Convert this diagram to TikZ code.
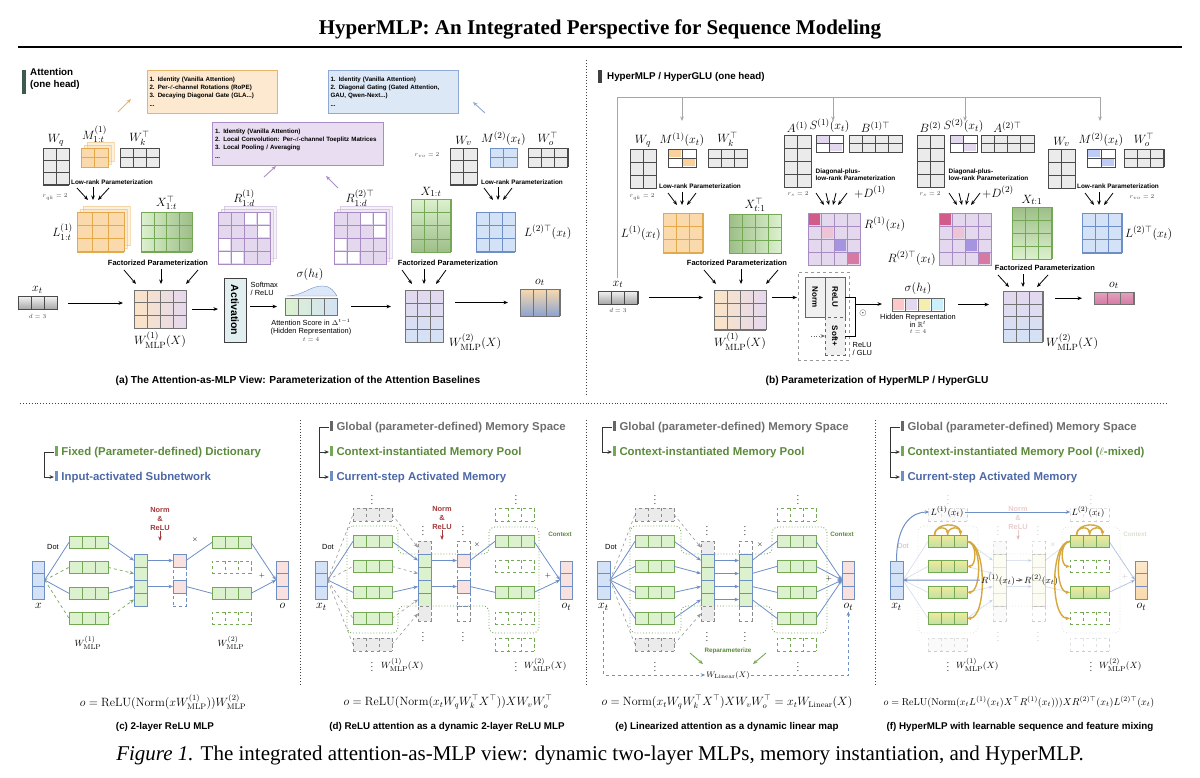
\documentclass[tikz,border=0pt]{standalone}
\usepackage[no-math]{fontspec}
\setmainfont{Liberation Serif}
\setsansfont{Liberation Sans}
\usepackage{amsmath,amssymb}
\usepackage{graphicx}
\usetikzlibrary{arrows.meta, positioning, calc, shadows}

\definecolor{mgray}{HTML}{4A4A4A}
\definecolor{cgray}{HTML}{EBEBEB}
\definecolor{ofill}{HTML}{FAD9AC}
\definecolor{oline}{HTML}{E3A94B}
\definecolor{gfill}{HTML}{DCF1CE}
\definecolor{gdark}{HTML}{9DBE88}
\definecolor{gline}{HTML}{74A854}
\definecolor{bfill}{HTML}{D3E2F6}
\definecolor{bline}{HTML}{6E8EC6}
\definecolor{pfill}{HTML}{E4D8EE}
\definecolor{pline}{HTML}{A98BC4}
\definecolor{obox}{HTML}{FCE9CF}
\definecolor{oboxl}{HTML}{E8B46A}
\definecolor{bbox}{HTML}{DDE8F7}
\definecolor{bboxl}{HTML}{8EA9D6}
\definecolor{pbox}{HTML}{E9DEF1}
\definecolor{pboxl}{HTML}{A98DC6}
\definecolor{hdbar}{HTML}{3D5A4C}
\definecolor{leggray}{HTML}{6E6E6E}
\definecolor{leggreen}{HTML}{5C8A3C}
\definecolor{legblue}{HTML}{4D68A6}
\definecolor{nred}{HTML}{A3383A}
\definecolor{gold}{HTML}{D6A83C}
\definecolor{actfill}{HTML}{E2EFF1}
\definecolor{pinkc}{HTML}{F8E1DE}
\definecolor{yel}{HTML}{F2EA98}
\definecolor{ygr}{HTML}{BFE0A6}
\definecolor{magc}{HTML}{D77AA3}

% grid of cells: [style]{name}{x,y top left}{cols}{rows}{cell w}{cell h}{line style}
\newcommand{\mgrid}[8][]{%
  \node[mat,#1,anchor=north west,minimum width={#4*#6*1pt},minimum height={#5*#7*1pt}] (#2) at (#3) {};
  \foreach \k in {1,...,#4} {\draw[mline,#8] ($(#2.north west)+(\k*#6,0)$) -- ++(0,#5*#7);}
  \foreach \k in {1,...,#5} {\draw[mline,#8] ($(#2.north west)+(0,\k*#7)$) -- ++(#4*#6,0);
    \coordinate (#2-w\k) at ($(#2.north west)+(0,\k*#7-0.5*#7)$);
    \coordinate (#2-e\k) at ($(#2.north east)+(0,\k*#7-0.5*#7)$);}
}
% colour one cell: {name}{col}{row}{cell w}{cell h}{colour}
\newcommand{\cellfill}[6]{\fill[#6] ($(#1.north west)+({(#2-1)*#4+0.6},{(#3-1)*#5+0.6})$) rectangle ++({#4-1.2},{#5-1.2});}
% three converging arrows
\newcommand{\conv}[5]{\draw[conv] (#1-#4,#2) -- (#1-#5,#3); \draw[conv] (#1,#2-1) -- (#1,#3); \draw[conv] (#1+#4,#2) -- (#1+#5,#3);}
% four converging arrows
\newcommand{\convf}[3]{\draw[conv] (#1-15,#2) -- (#1-7,#3); \draw[conv] (#1-5,#2) -- (#1-2,#3);
  \draw[conv] (#1+5,#2) -- (#1+2,#3); \draw[conv] (#1+16,#2) -- (#1+7,#3);}
\newcommand{\lbar}[1]{\textcolor{#1}{\rule[-0.5pt]{2.8pt}{10pt}}\hspace{3.5pt}}

\tikzset{
  >={Stealth[length=4.5pt,width=3.6pt]},
  mat/.style={draw, rectangle, inner sep=0pt, outer sep=0pt, line width=0.9pt},
  mline/.style={line width=0.55pt},
  gm/.style={mat, draw=mgray, fill=cgray},
  om/.style={mat, draw=oline, fill=ofill},
  grm/.style={mat, draw=gline, fill=gfill},
  grmd/.style={mat, draw=gline, dashed},
  gyd/.style={mat, draw=black!45, dashed, fill=black!8},
  emd/.style={mat, draw=black!45, dashed},
  bm/.style={mat, draw=bline, fill=bfill},
  pm/.style={mat, draw=pline, fill=pfill},
  midv/.style={mat, draw=bline, fill=gfill},
  actc/.style={mat, draw=bline, fill=pinkc},
  actd/.style={mat, draw=bline, dashed},
  fgr/.style={mat, draw=gline, top color=yel, bottom color=ygr},
  stackO/.style={double copy shadow={shadow xshift=3pt, shadow yshift=3pt, opacity=0.4, fill=ofill, draw=oline}},
  stackP/.style={double copy shadow={shadow xshift=3pt, shadow yshift=3pt, opacity=0.35, fill=pfill, draw=pline}},
  lab/.style={font=\fontsize{12.5}{14}\selectfont, inner sep=1pt},
  labs/.style={font=\fontsize{9.5}{11}\selectfont, inner sep=1pt},
  vd/.style={font=\fontsize{9}{10}\selectfont, inner sep=0pt},
  tinyt/.style={font=\sffamily\bfseries\fontsize{6.4}{7.4}\selectfont, inner sep=0.5pt},
  tinym/.style={font=\fontsize{6.5}{7.5}\selectfont, text=black!75, inner sep=0.5pt},
  fac/.style={font=\sffamily\bfseries\fontsize{7.5}{8.5}\selectfont, inner sep=0.5pt},
  listbox/.style={rectangle, line width=0.8pt, align=left, inner sep=2.5pt, font=\sffamily\bfseries\fontsize{6.2}{8.2}\selectfont},
  hd/.style={font=\sffamily\bfseries\fontsize{9.8}{12}\selectfont, inner sep=0pt, align=left},
  capt/.style={font=\sffamily\bfseries\fontsize{10.2}{12}\selectfont},
  captb/.style={font=\sffamily\bfseries\fontsize{9.8}{12}\selectfont},
  leg/.style={font=\sffamily\bfseries\fontsize{11.4}{13}\selectfont, inner sep=1pt, anchor=west},
  legline/.style={line width=0.8pt, black!80},
  sep/.style={dotted, line width=0.9pt, black!75},
  arr/.style={->, line width=1pt, shorten <=11pt, shorten >=11pt},
  conv/.style={->, line width=0.8pt},
  bcon/.style={line width=0.8pt, draw=bline},
  gdash/.style={dashed, line width=0.7pt, draw=gline},
  grdash/.style={dashed, line width=0.6pt, draw=black!40},
  ctx/.style={dotted, line width=0.9pt, draw=gline, rounded corners=6pt},
  form/.style={font=\fontsize{11.5}{13}\selectfont},
  smalls/.style={font=\sffamily\fontsize{7.4}{8.6}\selectfont, inner sep=0.5pt},
  ctxt/.style={font=\sffamily\bfseries\fontsize{6.3}{7}\selectfont, text=leggreen, inner sep=0.5pt},
  nr/.style={font=\sffamily\bfseries\fontsize{7.4}{8.6}\selectfont, text=nred, align=center, inner sep=0.5pt},
  frame/.style={line width=1pt, draw=black!35},
  garc/.style={line width=1.4pt, draw=gold},
  nbox/.style={mat, draw=black!60, fill=black!6, minimum width=20, minimum height=40, font=\sffamily\bfseries\fontsize{8}{9}\selectfont}
}

\begin{document}
\begin{tikzpicture}[x=1pt,y=-1pt]
\useasboundingbox (0,0) rectangle (1200,777);

% Title
\node[font=\bfseries\fontsize{21}{25}\selectfont] (title) at (600,29) {HyperMLP: An Integrated Perspective for Sequence Modeling};
\draw[line width=1.6pt] (18,47) -- (1182,47);

% Separators
\draw[sep] (586,60) -- (586,395);
\draw[sep] (20,403) -- (1166,403);
\draw[sep] (300,420) -- (300,684);
\draw[sep] (586,420) -- (586,684);
\draw[sep] (875,420) -- (875,684);

% ===== (a) Attention =====
\fill[hdbar] (22,70) rectangle (25.5,94);
\node[hd, anchor=north west] (hdA) at (30,68) {Attention\\(one head)};

% Parameter lists
\node[listbox, fill=obox, draw=oboxl, text width=125, minimum height=43] (boxO) at (212,91.5) {1. Identity (Vanilla Attention)\\2. Per-$\ell$-channel Rotations (RoPE)\\3. Decaying Diagonal Gate (GLA...)\\...};
\node[listbox, fill=bbox, draw=bboxl, text width=125, minimum height=43] (boxB) at (393,91.5) {1. Identity (Vanilla Attention)\\2. Diagonal Gating (Gated Attention,\\GAU, Qwen-Next...)\\...};
\node[listbox, fill=pbox, draw=pboxl, text width=166, minimum height=43] (boxP) at (298,143.5) {1. Identity (Vanilla Attention)\\2. Local Convolution: Per-$d$-channel Toeplitz Matrices\\3. Local Pooling / Averaging\\...};
\coordinate (oa1) at (118,112); \coordinate (oa2) at (131,99);
\coordinate (pa1) at (264,177); \coordinate (pa2) at (276,166);
\coordinate (pb1) at (338,188); \coordinate (pb2) at (326,176);
\coordinate (ba1) at (485,113); \coordinate (ba2) at (473,102);
\draw[->, line width=0.9pt, oboxl] (oa1) -- (oa2);
\draw[->, line width=0.9pt, pboxl] (pa1) -- (pa2);
\draw[->, line width=0.9pt, pboxl] (pb1) -- (pb2);
\draw[->, line width=0.9pt, bboxl] (ba1) -- (ba2);

% Query-key side
\mgrid[gm]{wqA}{43,148}{2}{3}{13}{12.3}{draw=mgray}
\mgrid[om, stackO]{mA}{81,148}{2}{2}{13.5}{9.5}{draw=oline}
\mgrid[gm]{wkA}{120,148}{3}{2}{13}{9.5}{draw=mgray}
\node[lab, above=1pt of wqA] (wqAl) {$W_q$};
\node[lab, above=4pt of mA] (mAl) {$M^{(1)}_{1:t}$};
\node[lab, above=1pt of wkA] (wkAl) {$W_k^{\top}$};
\node[tinyt] (lrA) at (112,182) {Low-rank Parameterization};
\node[tinym] (rqkA) at (55,197) {$r_{qk}=2$};
\conv{93}{188}{200}{16}{5}
\mgrid[om, stackO]{lA}{77,212}{3}{3}{15.7}{13.3}{draw=oline}
\node[lab, left=3pt of lA] (lAl) {$L^{(1)}_{1:t}$};
\mgrid[grm, left color=gfill, right color=gdark]{xtA}{141,212}{4}{3}{12.8}{13.3}{draw=gline}
\node[lab, above=1pt of xtA] (xtAl) {$X_{1:t}^{\top}$};

% Relative position matrices
\mgrid[pm, stackP]{r1A}{218,212}{4}{4}{13}{13}{draw=pline}
\foreach \c/\r in {3/1,4/1,4/2,1/3,1/4,2/4} {\cellfill{r1A}{\c}{\r}{13}{13}{white}}
\mgrid[pm, stackP]{r2A}{334,212}{4}{4}{13}{13}{draw=pline}
\foreach \c/\r in {4/1,3/1,4/2,1/3,1/4,2/4} {\cellfill{r2A}{\c}{\r}{13}{13}{white}}
\node[lab, above=4pt of r1A] (r1Al) {$R^{(1)}_{1:d}$};
\node[lab, above=4pt of r2A] (r2Al) {$R^{(2)\top}_{1:d}$};

% Value-output side
\mgrid[gm]{wvA}{450,148}{2}{3}{13.5}{12.3}{draw=mgray}
\mgrid[bm]{m2A}{490,148}{2}{2}{13.5}{9.5}{draw=bline}
\mgrid[gm]{woA}{528,148}{3}{2}{13.3}{9.5}{draw=mgray}
\node[lab, above=1pt of wvA] (wvAl) {$W_v$};
\node[lab, above=1pt of m2A] (m2Al) {$M^{(2)}(x_t)$};
\node[lab, above=1pt of woA] (woAl) {$W_o^{\top}$};
\node[tinym] (rvoA) at (427,155) {$r_{vo}=2$};
\node[tinyt] (lrA2) at (522,182) {Low-rank Parameterization};
\conv{498}{188}{200}{14}{5}
\mgrid[grm, top color=gfill, bottom color=gdark]{xA}{411,199}{3}{4}{13.3}{13.3}{draw=gline}
\node[lab, above=1pt of xA] (xAl) {$X_{1:t}$};
\mgrid[bm]{l2A}{476,212}{3}{3}{13}{13.3}{draw=bline}
\node[lab, right=8pt of l2A] (l2Al) {$L^{(2)\top}(x_t)$};

\node[fac] (fpA1) at (158,263) {Factorized Parameterization};
\node[fac] (fpA2) at (448,263) {Factorized Parameterization};
\conv{161}{270}{284}{37}{25}
\conv{424}{270}{284}{22}{12}

% Forward pass
\mgrid[gm, top color=black!5, bottom color=black!35]{xvA}{18,296.5}{3}{1}{13}{13}{draw=mgray}
\node[lab, above=2pt of xvA] (xvAl) {$x_t$};
\node[tinym, below=4pt of xvA] (dA) {$d=3$};
\mgrid[mat, draw=black!55, left color=ofill!70, right color=pfill]{w1A}{134,290}{4}{3}{13}{12.7}{draw=black!55}
\node[lab, below=2pt of w1A] (w1Al) {$W^{(1)}_{\mathrm{MLP}}(X)$};
\node[mat, draw=black!75, fill=actfill, minimum width=22, minimum height=64, font=\sffamily\bfseries\fontsize{10.5}{11}\selectfont] (actA) at (235,310) {\rotatebox{-90}{Activation}};
\node[smalls, align=left, anchor=west] (smA) at (250,289) {Softmax\\/ ReLU};
\draw[draw=bline, fill=bfill!80] (287,296) .. controls (305,295) and (310,286) .. (322,286) .. controls (332,286) and (334,292) .. (337,296) -- cycle;
\mgrid[mat, draw=black!55, left color=gfill, right color=bfill]{svA}{285,298}{4}{1}{13}{17}{draw=black!55}
\node[lab] (sgA) at (310,274) {$\sigma(h_t)$};
\node[smalls, align=center, below=3pt of svA] (asA) {Attention Score in $\Delta^{t-1}$\\(Hidden Representation)};
\node[tinym, below=1pt of asA] (tA) {$t=4$};
\mgrid[mat, draw=black!55, top color=pfill, bottom color=bfill]{w2A}{405,290}{3}{4}{12.7}{13}{draw=black!55}
\node[lab, anchor=west] (w2Al) at (448,342) {$W^{(2)}_{\mathrm{MLP}}(X)$};
\mgrid[mat, draw=black!55, top color=ofill, bottom color=bline!80]{ovA}{520,289}{3}{1}{13.3}{27}{draw=black!55}
\node[lab, above=2pt of ovA] (ovAl) {$o_t$};

\draw[arr] (xvA.east) -- (xvA.east -| w1A.west);
\draw[arr, shorten <=6pt, shorten >=6pt] (w1A.east) -- (w1A.east -| actA.west);
\draw[arr, shorten <=4pt, shorten >=8pt] (actA.east |- svA.west) -- (svA.west);
\draw[arr, shorten <=14pt, shorten >=14pt] (svA.east) -- (svA.east -| w2A.west);
\draw[arr, shorten <=12pt, shorten >=12pt] (ovA.west -| w2A.east) -- (ovA.west);

\node[capt] (capA) at (298,381) {(a) The Attention-as-MLP View: Parameterization of the Attention Baselines};

% ===== (b) HyperMLP / HyperGLU =====
\fill[black!75] (598,70) rectangle (601.5,83);
\node[hd, anchor=west] (hdB) at (607,76.5) {HyperMLP / HyperGLU (one head)};

% Query-key side
\mgrid[gm]{wqB}{630,149}{2}{3}{13}{13}{draw=mgray}
\mgrid[mat, draw=mgray, fill=white]{m1B}{668,149}{2}{2}{14}{9}{draw=mgray}
\cellfill{m1B}{1}{1}{14}{9}{ofill!90!orange}
\cellfill{m1B}{2}{2}{14}{9}{ofill!90!orange}
\mgrid[gm]{wkB}{708,149}{3}{2}{13}{9}{draw=mgray}
\node[lab, above=1pt of wqB] (wqBl) {$W_q$};
\node[lab, above=1pt of m1B] (m1Bl) {$M^{(1)}(x_t)$};
\node[lab, above=1pt of wkB] (wkBl) {$W_k^{\top}$};
\node[tinyt] (lrB) at (700,186) {Low-rank Parameterization};
\node[tinym] (rqkB) at (642,197) {$r_{qk}=2$};
\conv{682}{193}{205}{14}{5}
\mgrid[om]{l1B}{663,213}{3}{3}{13.3}{13.3}{draw=oline}
\node[lab, left=1pt of l1B] (l1Bl) {$L^{(1)}(x_t)$};
\mgrid[grm, left color=gdark, right color=gfill]{xtB}{729,214}{4}{3}{13}{13}{draw=gline}
\node[lab, above=1pt of xtB] (xtBl) {$X_{t:1}^{\top}$};

% Sequence mixing (first layer)
\mgrid[gm]{a1B}{784,135}{2}{4}{13.5}{13}{draw=mgray}
\mgrid[mat, draw=mgray, fill=white]{s1B}{816,135}{2}{2}{13.5}{8.5}{draw=mgray}
\cellfill{s1B}{1}{1}{13.5}{8.5}{pfill}
\cellfill{s1B}{2}{2}{13.5}{8.5}{pfill}
\mgrid[gm]{b1B}{849,135}{4}{2}{13.25}{8.5}{draw=mgray}
\node[lab, above=1pt of a1B] (a1Bl) {$A^{(1)}$};
\node[lab, above=1pt of s1B] (s1Bl) {$S^{(1)}(x_t)$};
\node[lab, above=1pt of b1B] (b1Bl) {$B^{(1)\top}$};
\node[tinyt, align=left, anchor=west] (dpB1) at (815,175) {Diagonal-plus-\\low-rank Parameterization};
\node[tinym] (rsB1) at (798,194) {$r_s=2$};
\convf{831}{193}{205}
\node[lab] (dB1) at (870,192) {$+D^{(1)}$};
\mgrid[pm]{r1B}{808,213}{4}{4}{13}{13}{draw=pline}
\cellfill{r1B}{1}{1}{13}{13}{magc!75!purple}
\cellfill{r1B}{2}{2}{13}{13}{magc!45}
\cellfill{r1B}{3}{3}{13}{13}{pline!75!blue!70}
\cellfill{r1B}{4}{4}{13}{13}{magc}
\node[lab, anchor=west] (r1Bl) at (863,224) {$R^{(1)}(x_t)$};

% Sequence mixing (second layer)
\mgrid[gm]{b2B}{917,135}{2}{4}{13.5}{13}{draw=mgray}
\mgrid[mat, draw=mgray, fill=white]{s2B}{950,135}{2}{2}{13.5}{8.5}{draw=mgray}
\cellfill{s2B}{1}{1}{13.5}{8.5}{pfill}
\cellfill{s2B}{2}{2}{13.5}{8.5}{pfill}
\mgrid[gm]{a2B}{981,135}{4}{2}{13.25}{8.5}{draw=mgray}
\node[lab, above=1pt of b2B] (b2Bl) {$B^{(2)}$};
\node[lab, above=1pt of s2B] (s2Bl) {$S^{(2)}(x_t)$};
\node[lab, above=1pt of a2B] (a2Bl) {$A^{(2)\top}$};
\node[tinyt, align=left, anchor=west] (dpB2) at (948,175) {Diagonal-plus-\\low-rank Parameterization};
\node[tinym] (rsB2) at (930,194) {$r_s=2$};
\convf{964}{193}{205}
\node[lab] (dB2) at (998,192) {$+D^{(2)}$};
\mgrid[pm]{r2B}{939,213}{4}{4}{13}{13}{draw=pline}
\cellfill{r2B}{1}{1}{13}{13}{magc!75!purple}
\cellfill{r2B}{2}{2}{13}{13}{magc!45}
\cellfill{r2B}{3}{3}{13}{13}{pline!75!blue!70}
\cellfill{r2B}{4}{4}{13}{13}{magc}
\node[lab, anchor=east] (r2Bl) at (937,258) {$R^{(2)\top}(x_t)$};
\mgrid[grm, top color=gdark, bottom color=gfill]{x2B}{1012,207}{3}{4}{13.3}{13}{draw=gline}
\node[lab, above=1pt of x2B] (x2Bl) {$X_{t:1}$};

% Value-output side
\mgrid[gm]{wvB}{1048,149}{2}{3}{13.5}{13}{draw=mgray}
\mgrid[mat, draw=mgray, fill=white]{m2B}{1087,149}{2}{2}{14}{9}{draw=mgray}
\cellfill{m2B}{1}{1}{14}{9}{bfill!90!blue}
\cellfill{m2B}{2}{2}{14}{9}{bfill!90!blue}
\mgrid[gm]{woB}{1124,149}{3}{2}{13.3}{9}{draw=mgray}
\node[lab, above=1pt of wvB] (wvBl) {$W_v$};
\node[lab, above=1pt of m2B] (m2Bl) {$M^{(2)}(x_t)$};
\node[lab, above=1pt of woB] (woBl) {$W_o^{\top}$};
\node[tinyt] (lrB2) at (1118,186) {Low-rank Parameterization};
\node[tinym] (rvoB) at (1142,197) {$r_{vo}=2$};
\conv{1099}{193}{205}{14}{5}
\mgrid[bm]{l2B}{1082,213}{3}{3}{13.3}{13.3}{draw=bline}
\node[lab, right=2pt of l2B] (l2Bl) {$L^{(2)\top}(x_t)$};

\node[fac] (fpB1) at (737,263) {Factorized Parameterization};
\node[fac] (fpB2) at (1045,268) {Factorized Parameterization};
\conv{741}{270}{284}{37}{25}
\conv{1023}{275}{287}{25}{14}

% Forward pass
\mgrid[gm, top color=black!5, bottom color=black!35]{xvB}{598,291}{3}{1}{13.3}{13}{draw=mgray}
\node[lab, above=2pt of xvB] (xvBl) {$x_t$};
\node[tinym, below=4pt of xvB] (dB) {$d=3$};
\draw[frame,->, shorten <=2pt] (xvBl.north) |- (1100,97) -- (1100,121);
\foreach \xx in {682,833,965} {\draw[frame,->] (\xx,97) -- (\xx,121);}
\mgrid[mat, draw=black!55, left color=ofill!70, right color=pfill]{w1B}{714,290}{4}{3}{13}{13.3}{draw=black!55}
\node[lab, below=2pt of w1B] (w1Bl) {$W^{(1)}_{\mathrm{MLP}}(X)$};
\node[mat, dashed, draw=black!40, minimum width=51, minimum height=88, anchor=north west] (gluB) at (798,272) {};
\node[nbox, anchor=north west] (normB) at (805,277) {\rotatebox{-90}{Norm}};
\node[nbox, right=0pt of normB] (reluB) {\rotatebox{-90}{ReLU}};
\node[nbox, dashed, below=0pt of reluB, minimum height=38] (softB) {\rotatebox{-90}{Soft+}};
\draw[dotted, ->, line width=0.7pt, black!60] ([xshift=-14pt]softB.west) -- (softB.west);
\draw[line width=1pt] (reluB.east) -- ++(10,0) |- (softB.east);
\coordinate (brk) at ($(reluB.east)+(10,7)$);
\node[font=\fontsize{9}{10}\selectfont] (odot) at (863,313) {$\odot$};
\node[smalls, align=left, anchor=west] (gluT) at (852,349) {ReLU\\/ GLU};
\mgrid[mat, draw=black!60, fill=white]{hvB}{892,298}{4}{1}{13}{13}{draw=black!60}
\cellfill{hvB}{1}{1}{13}{13}{red!22}
\cellfill{hvB}{2}{1}{13}{13}{pfill}
\cellfill{hvB}{3}{1}{13}{13}{yel!80}
\cellfill{hvB}{4}{1}{13}{13}{cyan!20}
\draw[arr, shorten <=0pt, shorten >=10pt] (brk) -- (brk -| hvB.west);
\node[lab, above=2pt of hvB] (sgB) {$\sigma(h_t)$};
\node[smalls, align=center, below=2pt of hvB] (hrB) {Hidden Representation\\in $\mathbb{R}^t$};
\node[tinym, below=1pt of hrB] (tB) {$t=4$};
\mgrid[mat, draw=black!55, top color=pfill, bottom color=bfill]{w2B}{1003,291}{3}{4}{13.3}{12.8}{draw=black!55}
\node[lab, anchor=west] (w2Bl) at (1045,342) {$W^{(2)}_{\mathrm{MLP}}(X)$};
\mgrid[mat, draw=black!55, top color=magc!70, bottom color=magc]{ovB}{1094,292}{3}{1}{13.3}{12.5}{draw=black!55}
\node[lab, above=2pt of ovB] (ovBl) {$o_t$};

\draw[arr] (xvB.east) -- (xvB.east -| w1B.west);
\draw[arr, shorten <=6pt, shorten >=1pt] (xvB.east -| w1B.east) -- (xvB.east -| gluB.west);
\draw[arr, shorten <=14pt, shorten >=14pt] (hvB.east) -- (hvB.east -| w2B.west);
\draw[arr, shorten <=12pt, shorten >=12pt] (ovB.west -| w2B.east) -- (ovB.west);

\node[capt] (capB) at (877,381) {(b) Parameterization of HyperMLP / HyperGLU};

% ===== (c) 2-layer ReLU MLP =====
\node[leg, text=leggreen] (lgC1) at (54,452) {\lbar{gline}Fixed (Parameter-defined) Dictionary};
\node[leg, text=legblue] (lgC2) at (54,477) {\lbar{bline}Input-activated Subnetwork};
\draw[legline, ->] (lgC1.west) -- ++(-10,0) |- (lgC2.west);

\mgrid[bm]{xvC}{32,561}{1}{3}{12.7}{12.7}{draw=bline}
\node[lab, below=3pt of xvC] (xvCl) {$x$};
\foreach \n/\yy in {1/536,2/561,3/587,4/612} {\mgrid[grm]{c1r\n}{69,\yy}{3}{1}{13}{12.7}{draw=gline}}
\mgrid[midv]{mC}{134,554}{1}{4}{13}{13}{draw=bline}
\mgrid[actc]{aC1}{173,554}{1}{1}{13}{13}{draw=bline}
\mgrid[actd]{aC2}{173,567}{1}{1}{13}{13}{draw=bline,dashed}
\mgrid[actc]{aC3}{173,580}{1}{1}{13}{13}{draw=bline}
\mgrid[actd]{aC4}{173,593}{1}{1}{13}{13}{draw=bline,dashed}
\mgrid[grm]{c2r1}{212,536}{3}{1}{13}{12.7}{draw=gline}
\mgrid[grmd]{c2r2}{212,561}{3}{1}{13}{12.7}{draw=gline,dashed}
\mgrid[grm]{c2r3}{212,587}{3}{1}{13}{12.7}{draw=gline}
\mgrid[grmd]{c2r4}{212,612}{3}{1}{13}{12.7}{draw=gline,dashed}
\mgrid[actc]{oC}{276,561}{1}{3}{12.7}{12.7}{draw=bline}
\node[lab, below=3pt of oC] (oCl) {$o$};
\node[nr] (nrC) at (160,519) {Norm\\\&\\ReLU};
\draw[->, nred, line width=0.8pt] (nrC.south) -- ++(0,10);
\node[smalls] (dotC) at (53,547) {Dot};
\node[smalls] (mulC) at (195,540) {$\times$};
\node[smalls] (addC) at (262,576) {$+$};
\node[labs] (w1Cl) at (88,643) {$W^{(1)}_{\mathrm{MLP}}$};
\node[labs] (w2Cl) at (231,643) {$W^{(2)}_{\mathrm{MLP}}$};
\draw[bcon] (xvC.east) -- (c1r1.west);
\draw[bcon] (xvC.east) -- (c1r3.west);
\draw[gdash] (xvC.east) -- (c1r2.west);
\draw[gdash] (xvC.east) -- (c1r4.west);
\draw[bcon,->] (c1r1.east) -- (mC-w1);
\draw[gdash,->] (c1r2.east) -- (mC-w2);
\draw[bcon,->] (c1r3.east) -- (mC-w3);
\draw[gdash,->] (c1r4.east) -- (mC-w4);
\draw[bcon,->] (mC-e1) -- (aC1.west);
\draw[bcon,->] (mC-e3) -- (aC3.west);
\draw[bcon] (aC1.east) -- (c2r1.west);
\draw[bcon] (aC3.east) -- (c2r3.west);
\draw[bcon,->] (c2r1.east) -- (oC.west);
\draw[bcon,->] (c2r3.east) -- (oC.west);
\node[form] (fC) at (163,702) {$o=\mathrm{ReLU}(\mathrm{Norm}(xW^{(1)}_{\mathrm{MLP}}))W^{(2)}_{\mathrm{MLP}}$};
\node[captb] (capC) at (165,727) {(c) 2-layer ReLU MLP};

% ===== (d) ReLU attention =====
\node[leg, text=leggray] (lgD1) at (329,427) {\lbar{black!60}Global (parameter-defined) Memory Space};
\node[leg, text=leggreen] (lgD2) at (329,452) {\lbar{gline}Context-instantiated Memory Pool};
\node[leg, text=legblue] (lgD3) at (329,477) {\lbar{bline}Current-step Activated Memory};
\draw[legline, ->] (lgD1.west) -- ++(-10,0) |- (lgD3.west);
\draw[legline, ->] ($(lgD1.west)+(-10,0)$) |- (lgD2.west);

\draw[ctx] (347,526) -- (398,526) -- (398,554) -- (489,554) -- (489,527) -- (539,527) -- (539,633) -- (489,633) -- (489,606) -- (398,606) -- (398,633) -- (347,633) -- cycle;
\mgrid[bm]{xvD}{315,561}{1}{3}{12.7}{12.7}{draw=bline}
\node[lab, below=3pt of xvD] (xvDl) {$x_t$};
\mgrid[gyd]{d1r0}{353,508}{3}{1}{13}{13}{draw=black!45,dashed}
\foreach \n/\yy in {1/535,2/560,3/586,4/612} {\mgrid[grm]{d1r\n}{353,\yy}{3}{1}{13}{12.7}{draw=gline}}
\mgrid[gyd]{d1r5}{353,638}{3}{1}{13}{13}{draw=black!45,dashed}
\mgrid[gyd]{mDt}{418,541}{1}{1}{13}{13}{draw=black!45,dashed}
\mgrid[midv]{mD}{418,554}{1}{4}{13}{13}{draw=bline}
\mgrid[gyd]{mDb}{418,606}{1}{1}{13}{15}{draw=black!45,dashed}
\mgrid[emd]{aDt}{457,541}{1}{1}{13}{13}{draw=black!45,dashed}
\mgrid[actc]{aD1}{457,554}{1}{1}{13}{13}{draw=bline}
\mgrid[actd]{aD2}{457,567}{1}{1}{13}{13}{draw=bline,dashed}
\mgrid[actc]{aD3}{457,580}{1}{1}{13}{13}{draw=bline}
\mgrid[actd]{aD4}{457,593}{1}{1}{13}{13}{draw=bline,dashed}
\mgrid[emd]{aDb}{457,606}{1}{1}{13}{15}{draw=black!45,dashed}
\mgrid[grmd]{d2r0}{495,508}{3}{1}{13}{13}{draw=gline,dashed}
\mgrid[grm]{d2r1}{495,535}{3}{1}{13}{12.7}{draw=gline}
\mgrid[grmd]{d2r2}{495,560}{3}{1}{13}{12.7}{draw=gline,dashed}
\mgrid[grm]{d2r3}{495,586}{3}{1}{13}{12.7}{draw=gline}
\mgrid[grmd]{d2r4}{495,612}{3}{1}{13}{12.7}{draw=gline,dashed}
\mgrid[grmd]{d2r5}{495,638}{3}{1}{13}{13}{draw=gline,dashed}
\mgrid[actc]{oD}{560,561}{1}{3}{12.7}{12.7}{draw=bline}
\node[lab, below=3pt of oD] (oDl) {$o_t$};
\node[nr] (nrD) at (442,518) {Norm\\\&\\ReLU};
\draw[->, nred, line width=0.8pt] (nrD.south) -- ++(0,10);
\node[vd] (vD1) at (372,497) {$\vdots$};
\node[vd] (vD2) at (423,528) {$\vdots$};
\node[vd] (vD3) at (463,528) {$\vdots$};
\node[vd] (vD4) at (516,497) {$\vdots$};
\node[vd] (vD5) at (423,634) {$\vdots$};
\node[vd] (vD6) at (463,634) {$\vdots$};
\node[vd] (vD7) at (372,664) {$\vdots$};
\node[vd] (vD8) at (516,664) {$\vdots$};
\node[labs, anchor=west] (w1Dl) at (380,665) {$W^{(1)}_{\mathrm{MLP}}(X)$};
\node[labs, anchor=west] (w2Dl) at (523,665) {$W^{(2)}_{\mathrm{MLP}}(X)$};
\node[smalls] (dotD) at (328,547) {Dot};
\node[smalls] (mulD) at (477,545) {$\times$};
\node[smalls] (addD) at (548,576) {$+$};
\node[ctxt] (ctxD) at (560,534) {Context};
\draw[bcon] (xvD.east) -- (d1r1.west);
\draw[bcon] (xvD.east) -- (d1r3.west);
\foreach \n in {0,2,4,5} {\draw[grdash] (xvD.east) -- (d1r\n.west);}
\draw[bcon,->] (d1r1.east) -- (mD-w1);
\draw[grdash,->] (d1r2.east) -- (mD-w2);
\draw[bcon,->] (d1r3.east) -- (mD-w3);
\draw[grdash,->] (d1r4.east) -- (mD-w4);
\draw[grdash,->] (d1r0.east) -- (mDt.west);
\draw[grdash,->] (d1r5.east) -- (mDb.west);
\draw[bcon,->] (mD-e1) -- (aD1.west);
\draw[bcon,->] (mD-e3) -- (aD3.west);
\draw[bcon] (aD1.east) -- (d2r1.west);
\draw[bcon] (aD3.east) -- (d2r3.west);
\draw[bcon,->] (d2r1.east) -- (oD.west);
\draw[bcon,->] (d2r3.east) -- (oD.west);
\node[form, font=\fontsize{11.7}{13}\selectfont] (fD) at (448,702) {$o=\mathrm{ReLU}(\mathrm{Norm}(x_tW_qW_k^{\top}X^{\top}))XW_vW_o^{\top}$};
\node[captb] (capD) at (447,727) {(d) ReLU attention as a dynamic 2-layer ReLU MLP};

% ===== (e) Linearized attention =====
\node[leg, text=leggray] (lgE1) at (612,427) {\lbar{black!60}Global (parameter-defined) Memory Space};
\node[leg, text=leggreen] (lgE2) at (612,452) {\lbar{gline}Context-instantiated Memory Pool};
\draw[legline, ->] (lgE1.west) -- ++(-10,0) |- (lgE2.west);

\draw[ctx] (630,526) -- (681,526) -- (681,554) -- (772,554) -- (772,527) -- (827,527) -- (827,633) -- (772,633) -- (772,606) -- (681,606) -- (681,633) -- (630,633) -- cycle;
\mgrid[bm]{xvE}{597,561}{1}{3}{13}{12.7}{draw=bline}
\node[lab, below=3pt of xvE] (xvEl) {$x_t$};
\mgrid[gyd]{e1r0}{635,508}{3}{1}{13}{13}{draw=black!45,dashed}
\foreach \n/\yy in {1/535,2/560,3/586,4/612} {\mgrid[grm]{e1r\n}{635,\yy}{3}{1}{13}{12.7}{draw=gline}}
\mgrid[gyd]{e1r5}{635,638}{3}{1}{13}{13}{draw=black!45,dashed}
\mgrid[gyd]{mEt}{701,541}{1}{1}{13}{13}{draw=black!45,dashed}
\mgrid[midv]{mE}{701,554}{1}{4}{13}{13}{draw=bline}
\mgrid[gyd]{mEb}{701,606}{1}{1}{13}{15}{draw=black!45,dashed}
\mgrid[emd]{nEt}{739,541}{1}{1}{13}{13}{draw=black!45,dashed}
\mgrid[midv]{nE}{739,554}{1}{4}{13}{13}{draw=bline}
\mgrid[emd]{nEb}{739,606}{1}{1}{13}{15}{draw=black!45,dashed}
\mgrid[grmd]{e2r0}{777,508}{3}{1}{13}{13}{draw=gline,dashed}
\foreach \n/\yy in {1/535,2/560,3/586,4/612} {\mgrid[grm]{e2r\n}{777,\yy}{3}{1}{13}{12.7}{draw=gline}}
\mgrid[grmd]{e2r5}{777,638}{3}{1}{13}{13}{draw=gline,dashed}
\mgrid[actc]{oE}{842,561}{1}{3}{12.7}{12.7}{draw=bline}
\node[lab, below=3pt of oE] (oEl) {$o_t$};
\node[vd] (vE1) at (655,497) {$\vdots$};
\node[vd] (vE2) at (707,528) {$\vdots$};
\node[vd] (vE3) at (745,528) {$\vdots$};
\node[vd] (vE4) at (798,497) {$\vdots$};
\node[vd] (vE5) at (655,664) {$\vdots$};
\node[vd] (vE6) at (707,634) {$\vdots$};
\node[vd] (vE7) at (745,634) {$\vdots$};
\node[vd] (vE8) at (798,664) {$\vdots$};
\node[smalls] (dotE) at (611,547) {Dot};
\node[smalls] (mulE) at (760,545) {$\times$};
\node[smalls] (addE) at (829,579) {$+$};
\node[ctxt] (ctxE) at (842,534) {Context};
\node[ctxt] (repE) at (728,651) {Reparameterize};
\node[labs, font=\fontsize{8.5}{10}\selectfont] (wlinE) at (728,675) {$W_{\mathrm{Linear}}(X)$};
\coordinate (rp1) at (690,653); \coordinate (rp2) at (703,664);
\coordinate (rp3) at (766,653); \coordinate (rp4) at (753,664);
\draw[->, gline, line width=0.9pt] (rp1) -- (rp2);
\draw[->, gline, line width=0.9pt] (rp3) -- (rp4);
\draw[->, dashed, bline, line width=0.7pt] (xvEl.south) |- (wlinE.west);
\draw[->, dashed, bline, line width=0.7pt] (wlinE.east) -| (oEl.south);
\foreach \n in {1,...,4} {
  \draw[bcon] (xvE.east) -- (e1r\n.west);
  \draw[bcon,->] (e1r\n.east) -- (mE-w\n);
  \draw[bcon,->] (mE-e\n) -- (nE-w\n);
  \draw[bcon] (nE-e\n) -- (e2r\n.west);
  \draw[bcon,->] (e2r\n.east) -- (oE.west);
}
\foreach \n in {0,5} {\draw[grdash] (xvE.east) -- (e1r\n.west);}
\draw[grdash,->] (e1r0.east) -- (mEt.west);
\draw[grdash,->] (e1r5.east) -- (mEb.west);
\node[form] (fE) at (727,702) {$o=\mathrm{Norm}(x_tW_qW_k^{\top}X^{\top})XW_vW_o^{\top}=x_tW_{\mathrm{Linear}}(X)$};
\node[captb] (capE) at (727,727) {(e) Linearized attention as a dynamic linear map};

% ===== (f) HyperMLP =====
\node[leg, text=leggray] (lgF1) at (900,427) {\lbar{black!60}Global (parameter-defined) Memory Space};
\node[leg, text=leggreen] (lgF2) at (900,452) {\lbar{gline}Context-instantiated Memory Pool ($\ell$-mixed)};
\node[leg, text=legblue] (lgF3) at (900,477) {\lbar{bline}Current-step Activated Memory};
\draw[legline, ->] (lgF1.west) -- ++(-10,0) |- (lgF3.west);
\draw[legline, ->] ($(lgF1.west)+(-10,0)$) |- (lgF2.west);

\begin{scope}[opacity=0.25]
\draw[ctx] (918,526) -- (978,526) -- (978,554) -- (1062,554) -- (1062,527) -- (1120,527) -- (1120,633) -- (1062,633) -- (1062,606) -- (978,606) -- (978,633) -- (918,633) -- cycle;
\mgrid[gyd]{f1r0}{928,508}{3}{1}{13}{13}{draw=black!45,dashed}
\mgrid[gyd]{f1r5}{928,638}{3}{1}{13}{13}{draw=black!45,dashed}
\mgrid[gyd]{mFt}{993,541}{1}{1}{13}{13}{draw=black!45,dashed}
\mgrid[mat, draw=black!40, fill=yel!50]{mF}{993,554}{1}{4}{13}{13}{draw=black!40}
\mgrid[gyd]{mFb}{993,606}{1}{1}{13}{15}{draw=black!45,dashed}
\mgrid[emd]{nFt}{1032,541}{1}{1}{13}{13}{draw=black!45,dashed}
\mgrid[mat, draw=black!40, fill=yel!50]{nF}{1032,554}{1}{4}{13}{13}{draw=black!40}
\mgrid[emd]{nFb}{1032,606}{1}{1}{13}{15}{draw=black!45,dashed}
\mgrid[emd]{f2r0}{1070,508}{3}{1}{13}{13}{draw=black!45,dashed}
\mgrid[emd]{f2r5}{1070,638}{3}{1}{13}{13}{draw=black!45,dashed}
\node[nr] (nrF) at (1018,518) {Norm\\\&\\ReLU};
\draw[->, nred, line width=0.8pt] (nrF.south) -- ++(0,10);
\node[smalls] (dotF) at (903,546) {Dot};
\node[smalls] (mulF) at (1053,545) {$\times$};
\node[smalls] (addF) at (1125,577) {$+$};
\node[ctxt] (ctxF) at (1135,534) {Context};
\node[vd] (vF1) at (948,497) {$\vdots$};
\node[vd] (vF2) at (998,528) {$\vdots$};
\node[vd] (vF3) at (1038,528) {$\vdots$};
\node[vd] (vF4) at (1091,497) {$\vdots$};
\node[vd] (vF5) at (998,634) {$\vdots$};
\node[vd] (vF6) at (1038,634) {$\vdots$};
\end{scope}
\mgrid[bm]{xvF}{890,561}{1}{3}{13}{12.7}{draw=bline}
\node[lab, below=3pt of xvF] (xvFl) {$x_t$};
\foreach \n/\yy in {1/535,2/560,3/586,4/612} {\mgrid[fgr]{f1r\n}{928,\yy}{3}{1}{13}{12.7}{draw=gline}}
\mgrid[fgr]{f2r1}{1070,535}{3}{1}{13}{12.7}{draw=gline}
\mgrid[grmd]{f2r2}{1070,560}{3}{1}{13}{12.7}{draw=gline,dashed}
\mgrid[fgr]{f2r3}{1070,586}{3}{1}{13}{12.7}{draw=gline}
\mgrid[grmd]{f2r4}{1070,612}{3}{1}{13}{12.7}{draw=gline,dashed}
\mgrid[mat, draw=bline, top color=ofill!60, bottom color=ofill]{oF}{1135,561}{1}{3}{12.7}{12.7}{draw=bline}
\node[lab, below=3pt of oF] (oFl) {$o_t$};
\begin{scope}[opacity=0.25]
\foreach \n in {1,...,4} {\draw[bcon] (xvF.east) -- (f1r\n.west); \draw[bcon,->] (f1r\n.east) -- (mF-w\n);}
\draw[bcon,->] (mF-e1) -- (nF-w1);
\draw[bcon,->] (mF-e3) -- (nF-w3);
\draw[bcon] (nF-e1) -- (f2r1.west);
\draw[bcon] (nF-e3) -- (f2r3.west);
\end{scope}
\draw[bcon, opacity=0.5, ->] (f2r1.east) -- (oF.west);
\draw[bcon, opacity=0.5, ->] (f2r3.east) -- (oF.west);
% feature mixing arcs
\foreach \a/\b/\h in {934.5/947.5/9,947.5/960.5/9,934.5/960.5/13} {\draw[garc, ->] (\a,535) .. controls (\a,535-\h) and (\b,535-\h) .. (\b,535);}
\foreach \a/\b/\h in {1076.5/1089.5/9,1089.5/1102.5/9,1076.5/1102.5/13} {\draw[garc, ->] (\a,535) .. controls (\a,535-\h) and (\b,535-\h) .. (\b,535);}
% sequence mixing arcs
\foreach \n/\w in {2/10,3/15,4/20} {\draw[garc, ->] (f1r1.east) .. controls +(\w,0) and +(\w,0) .. (f1r\n.east);}
\foreach \n/\w in {2/10,3/15,4/20} {\draw[garc, ->] (f2r1.west) .. controls +(-\w,0) and +(-\w,0) .. (f2r\n.west);}
\node[labs] (lf1) at (947,512) {$L^{(1)}(x_t)$};
\node[labs] (lf2) at (1088,512) {$L^{(2)}(x_t)$};
\node[labs] (rf1) at (998,580) {$R^{(1)}(x_t)$};
\node[labs] (rf2) at (1041,580) {$R^{(2)}(x_t)$};
\draw[->, bline, line width=1pt] (xvF.north) .. controls +(0,-40) and +(-15,0) .. (lf1.west);
\draw[->, bline, line width=1pt] (lf1.east) -- (lf2.west);
\draw[<-, bline, line width=1pt] (xvF.east) -- (rf1.west);
\draw[->, black!60, line width=0.7pt] (rf1.east) -- (rf2.west);
\node[vd] (vF7) at (948,664) {$\vdots$};
\node[vd] (vF8) at (1091,664) {$\vdots$};
\node[labs, anchor=west] (w1Fl) at (955,665) {$W^{(1)}_{\mathrm{MLP}}(X)$};
\node[labs, anchor=west] (w2Fl) at (1098,665) {$W^{(2)}_{\mathrm{MLP}}(X)$};
\node[form, font=\fontsize{10.4}{12}\selectfont] (fF) at (1019,702) {$o=\mathrm{ReLU}(\mathrm{Norm}(x_tL^{(1)}(x_t)X^{\top}R^{(1)}(x_t)))XR^{(2)\top}(x_t)L^{(2)\top}(x_t)$};
\node[captb] (capF) at (1020,727) {(f) HyperMLP with learnable sequence and feature mixing};

% Figure caption
\node[font=\fontsize{21}{24}\selectfont] (figcap) at (600,755) {\textit{Figure 1.} The integrated attention-as-MLP view: dynamic two-layer MLPs, memory instantiation, and HyperMLP.};
\end{tikzpicture}
\end{document}
